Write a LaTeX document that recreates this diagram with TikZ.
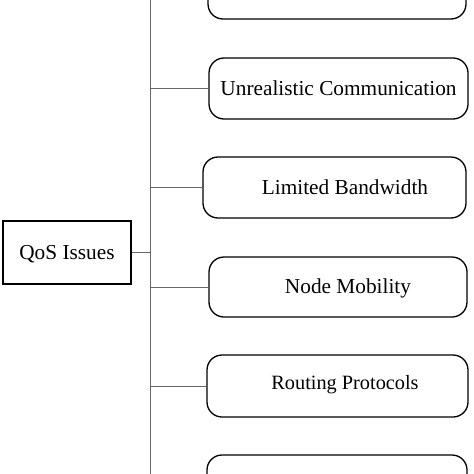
\documentclass[tikz,border=0pt]{standalone}
\usepackage{fontspec}
\setmainfont{Liberation Serif}
\begin{document}
\begin{tikzpicture}[x=1pt,y=-1pt,
  issue/.style={draw=black, line width=1.3pt, rounded corners=15pt, inner sep=0pt,
    font=\fontsize{21.3}{24}\selectfont, text height=14.6pt, text depth=1pt},
  root/.style={draw=black, line width=1.2pt, inner sep=0pt,
    font=\fontsize{21.3}{24}\selectfont, text height=14pt, text depth=1pt},
  link/.style={draw=black!60, line width=1pt}]
\useasboundingbox (0,0) rectangle (474,474);
\node[issue, minimum width=258pt, minimum height=61pt] (top) at (337,-11.5) {};
\node[issue, minimum width=259pt, minimum height=61pt] (unreal) at (338.5,88.5) {Unrealistic Communication};
\node[issue, minimum width=263pt, minimum height=61pt] (band) at (334.5,187.5) {\hspace*{21pt}Limited Bandwidth};
\node[root, minimum width=128pt, minimum height=63pt] (qos) at (67,252.5) {QoS Issues};
\node[issue, minimum width=258pt, minimum height=60pt] (mob) at (338,287) {\hspace*{20pt}Node Mobility};
\node[issue, minimum width=261pt, minimum height=62pt, font=\fontsize{20.3}{24}\selectfont, text height=8pt] (rout) at (337.5,386) {\hspace*{15pt}Routing Protocols};
\node[issue, minimum width=260pt, minimum height=61pt] (bot) at (337,485.5) {};
\coordinate (ttop) at (150,-1);
\coordinate (tbot) at (150,475);
\draw[link] (ttop) -- (tbot);
\draw[link] (qos.east) -- (qos.east -| ttop);
\foreach \n in {top,unreal,band,mob,rout,bot}
  \draw[link] (\n.west) -- (\n.west -| ttop);
\end{tikzpicture}
\end{document}
